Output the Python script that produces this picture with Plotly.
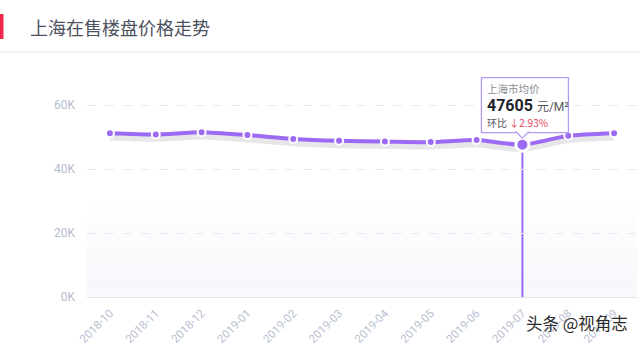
import plotly.graph_objects as go

months = ["2018-10", "2018-11", "2018-12", "2019-01", "2019-02", "2019-03",
          "2019-04", "2019-05", "2019-06", "2019-07", "2019-08", "2019-09"]
prices = [51200, 50800, 51500, 50600, 49400, 48800, 48600, 48400, 49042, 47605, 50400, 51200]
y_ticks = [0, 20000, 40000, 60000]
y_tick_labels = ["0K", "20K", "40K", "60K"]
focus_index = 9
focus_label = "上海市均价"
focus_unit = "元/M²"
focus_change = "2.93%"
title_text = "上海在售楼盘价格走势"
watermark = "头条 @视角志"

PURPLE = "#9d6bf3"
NUM_FONT = "Roboto, 'Noto Sans CJK SC', sans-serif"
CJK_FONT = "'Noto Sans CJK SC', 'Noto Sans', sans-serif"

W, H = 640, 347
ML, MR, MT, MB = 87, 3, 70, 50
PW, PH = W - ML - MR, H - MT - MB
Y_MAX = 60000 * PH / (H - MB - 105)   # 60K gridline sits at 105px from top

fig = go.Figure()

# soft drop shadow under the line
fig.add_trace(go.Scatter(
    x=months, y=[v - 1200 for v in prices], mode="lines",
    line=dict(color="rgba(60,60,80,0.12)", width=7, shape="spline", smoothing=0.6),
    hoverinfo="skip", showlegend=False))

fig.add_trace(go.Scatter(
    x=months, y=prices, mode="lines+markers",
    line=dict(color=PURPLE, width=4, shape="spline", smoothing=0.6),
    marker=dict(size=8, color=PURPLE, line=dict(color="white", width=2)),
    showlegend=False))

fx, fy = months[focus_index], prices[focus_index]

shapes = []
# gradient background at lower part of plot area
n = 24
top_val = 32000
for i in range(n):
    v0 = top_val * i / n
    v1 = top_val * (i + 1) / n
    t = (i + 0.5) / n  # 0 bottom -> 1 top
    r = round(247 + (255 - 247) * t)
    g = round(247 + (255 - 247) * t)
    b = round(252 + (255 - 252) * t)
    shapes.append(dict(type="rect", xref="x domain", yref="y",
                       x0=0, x1=1, y0=v0, y1=v1, fillcolor=f"rgb({r},{g},{b})",
                       line=dict(width=0), layer="below"))

# vertical indicator line
shapes.append(dict(type="line", xref="x", yref="y", x0=fx, x1=fx, y0=0, y1=fy,
                   line=dict(color=PURPLE, width=2), layer="below"))

# tooltip box
shapes.append(dict(type="rect", xref="x", yref="y", xsizemode="pixel", ysizemode="pixel",
                   xanchor=fx, yanchor=fy, x0=-41, x1=46, y0=12, y1=67,
                   fillcolor="white", line=dict(color="#b69af2", width=1.3), layer="above"))
shapes.append(dict(type="path", xref="x", yref="y", xsizemode="pixel", ysizemode="pixel",
                   xanchor=fx, yanchor=fy, path="M -6,12.6 L 0,6.5 L 6,12.6 Z",
                   fillcolor="white", line=dict(color="#b69af2", width=1.3), layer="above"))
shapes.append(dict(type="line", xref="x", yref="y", xsizemode="pixel", ysizemode="pixel",
                   xanchor=fx, yanchor=fy, x0=-5, x1=5, y0=12.6, y1=12.6,
                   line=dict(color="white", width=2), layer="above"))

# header separator line and red marker
sep_y = 1 + (MT - 52) / PH
shapes.append(dict(type="line", xref="paper", yref="paper", x0=-ML / PW, x1=1 + MR / PW,
                   y0=sep_y, y1=sep_y, line=dict(color="#f0f0f3", width=1.5)))
ry0, ry1 = 1 + (MT - 39) / PH, 1 + (MT - 14) / PH
shapes.append(dict(type="rect", xref="paper", yref="paper",
                   x0=-ML / PW, x1=-(ML - 3.5) / PW, y0=ry0, y1=ry1,
                   fillcolor="#ef2a4c", line=dict(width=0)))

fig.add_trace(go.Scatter(
    x=[fx], y=[fy], mode="markers",
    marker=dict(size=13, color=PURPLE, line=dict(color="white", width=3)),
    showlegend=False))

annotations = [
    dict(x=fx, y=fy, xref="x", yref="y", text=focus_label, showarrow=False,
         xanchor="left", yanchor="middle", xshift=-36, yshift=56, borderpad=0,
         font=dict(family=CJK_FONT, size=10.5, color="#8a8c96")),
    dict(x=fx, y=fy, xref="x", yref="y",
         text=f"<b>{prices[focus_index]}</b> <span style='font-size:12px;color:#555'>{focus_unit}</span>",
         showarrow=False, xanchor="left", yanchor="middle", xshift=-36, yshift=39.5, borderpad=0,
         font=dict(family=NUM_FONT, size=16, color="#22242c")),
    dict(x=fx, y=fy, xref="x", yref="y",
         text=f"环比 <span style='color:#e8485a'>↓{focus_change}</span>",
         showarrow=False, xanchor="left", yanchor="middle", xshift=-36, yshift=22.5, borderpad=0,
         font=dict(family=CJK_FONT, size=10, color="#555760")),
    dict(xref="paper", yref="paper", x=(28 - ML) / PW, y=1 + (MT - 27) / PH,
         text=title_text, showarrow=False, xanchor="left", yanchor="middle",
         font=dict(family=CJK_FONT, size=18, color="#4d515e")),
    dict(xref="paper", yref="paper", x=(630 - ML) / PW, y=-(323 - (H - MB)) / PH,
         text=watermark, showarrow=False, xanchor="right", yanchor="middle",
         font=dict(family=CJK_FONT, size=16.5, color="#2a2a2a")),
]

fig.update_layout(
    width=W, height=H,
    margin=dict(l=ML, r=MR, t=MT, b=MB, autoexpand=False),
    paper_bgcolor="white", plot_bgcolor="white",
    showlegend=False,
    xaxis=dict(type="category", categoryorder="array", categoryarray=months,
               range=[-0.5, len(months) - 0.5], automargin=False,
               tickangle=-45, tickfont=dict(family=NUM_FONT, size=11.5, color="#b9c0d2"),
               showgrid=False, zeroline=False, showline=True, linecolor="#e3e6ee",
               linewidth=1, ticks="", ticklabelstandoff=4),
    yaxis=dict(range=[0, Y_MAX], tickvals=y_ticks, ticktext=y_tick_labels, automargin=False,
               tickfont=dict(family=NUM_FONT, size=12, color="#b4bccd"),
               showgrid=True, gridcolor="#e8eaf0", griddash="dash", gridwidth=1,
               zeroline=False, showline=False, ticks="", ticklabelstandoff=11),
    shapes=shapes,
    annotations=annotations,
)

fig.write_html("out.html")
